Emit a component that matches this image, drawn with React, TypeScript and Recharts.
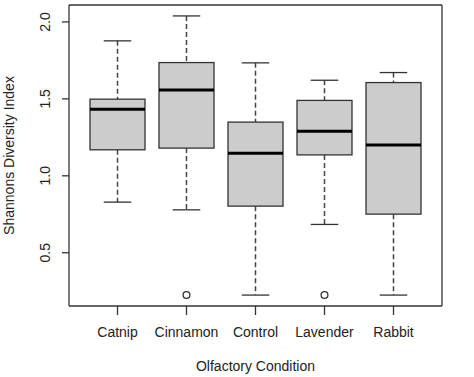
import * as React from 'react'
import { Bar, ComposedChart, Label, Line, XAxis, YAxis } from 'recharts'

// Olfactory conditions and their box statistics
const conditions = ['Catnip', 'Cinnamon', 'Control', 'Lavender', 'Rabbit']
const whiskerLow = [0.829, 0.779, 0.225, 0.684, 0.225]
const quartile1 = [1.169, 1.18, 0.803, 1.136, 0.751]
const medians = [1.433, 1.558, 1.147, 1.29, 1.201]
const quartile3 = [1.498, 1.736, 1.349, 1.49, 1.606]
const whiskerHigh = [1.877, 2.039, 1.734, 1.621, 1.671]
const outliers: (number | null)[] = [null, 0.225, null, 0.225, null]
const yTicks = [0.5, 1.0, 1.5, 2.0]

const data = conditions.map((name, i) => ({
  name,
  range: [whiskerLow[i], whiskerHigh[i]],
  q1: quartile1[i],
  med: medians[i],
  q3: quartile3[i],
  outlier: outliers[i],
}))

const FONT = '"Liberation Sans", Arial, Helvetica, sans-serif'
const INK = '#222'
const LINE = '#333'

const BoxShape = (props: any) => {
  const { x, y, width, height, payload } = props
  const [lo, hi] = payload.range
  const top = Math.min(y, y + height)
  const h = Math.abs(height)
  const k = h / (hi - lo)
  const py = (v: number) => top + (hi - v) * k
  const cx = x + width / 2
  const cap = width / 4
  return (
    <g>
      <line x1={cx} x2={cx} y1={py(hi)} y2={py(payload.q3)} stroke="#444" strokeWidth={1.5} strokeDasharray="5 3" />
      <line x1={cx} x2={cx} y1={py(payload.q1)} y2={py(lo)} stroke="#444" strokeWidth={1.5} strokeDasharray="5 3" />
      <line x1={cx - cap} x2={cx + cap} y1={py(hi)} y2={py(hi)} stroke={LINE} strokeWidth={1.3} />
      <line x1={cx - cap} x2={cx + cap} y1={py(lo)} y2={py(lo)} stroke={LINE} strokeWidth={1.3} />
      <rect
        x={x}
        y={py(payload.q3)}
        width={width}
        height={py(payload.q1) - py(payload.q3)}
        fill="#cccccc"
        stroke={LINE}
        strokeWidth={1.3}
      />
      <line x1={x} x2={x + width} y1={py(payload.med)} y2={py(payload.med)} stroke="#000" strokeWidth={3} />
    </g>
  )
}

const YTick = (props: any) => {
  const { x, y, payload } = props
  return (
    <text
      x={x}
      y={y}
      transform={`rotate(-90 ${x} ${y})`}
      textAnchor="middle"
      fontSize={14}
      fontFamily={FONT}
      fill={INK}
    >
      {Number(payload.value).toFixed(1)}
    </text>
  )
}

export default function App() {
  return (
    <div style={{ position: 'absolute', left: 0, top: 0, width: 474, height: 377, background: '#fff' }}>
      <ComposedChart width={474} height={377} data={data} margin={{ top: 0, right: 0, bottom: 0, left: 0 }}>
        <XAxis
          dataKey="name"
          height={71}
          padding={{ left: 14, right: 14 }}
          tickSize={9}
          tickMargin={12}
          tick={{ fontSize: 14, fontFamily: FONT, fill: INK }}
          axisLine={{ stroke: LINE, strokeWidth: 1.3 }}
          tickLine={{ stroke: LINE, strokeWidth: 1.3 }}
        >
          <Label
            content={({ viewBox }: any) => (
              <text
                x={viewBox.x + viewBox.width / 2}
                y={371}
                textAnchor="middle"
                fontSize={14}
                fontFamily={FONT}
                fill={INK}
              >
                Olfactory Condition
              </text>
            )}
          />
        </XAxis>
        <XAxis
          xAxisId="top"
          orientation="top"
          dataKey="name"
          height={5}
          padding={{ left: 14, right: 14 }}
          tick={false}
          tickLine={false}
          axisLine={{ stroke: LINE, strokeWidth: 1.3 }}
        />
        <YAxis
          type="number"
          width={69}
          domain={[0.154, 2.11]}
          allowDataOverflow
          ticks={yTicks}
          tickSize={7}
          tickMargin={12}
          tick={<YTick />}
          axisLine={{ stroke: LINE, strokeWidth: 1.3 }}
          tickLine={{ stroke: LINE, strokeWidth: 1.3 }}
        >
          <Label
            content={({ viewBox }: any) => {
              const cy = viewBox.y + viewBox.height / 2
              return (
                <text
                  x={14}
                  y={cy}
                  transform={`rotate(-90 14 ${cy})`}
                  textAnchor="middle"
                  fontSize={14}
                  fontFamily={FONT}
                  fill={INK}
                >
                  Shannons Diversity Index
                </text>
              )
            }}
          />
        </YAxis>
        <YAxis
          yAxisId="right"
          orientation="right"
          width={32}
          tick={false}
          tickLine={false}
          axisLine={{ stroke: LINE, strokeWidth: 1.3 }}
        />
        <Bar dataKey="range" barSize={55} shape={<BoxShape />} isAnimationActive={false} />
        <Line
          dataKey="outlier"
          stroke="none"
          isAnimationActive={false}
          dot={(p: any) =>
            p.payload.outlier == null ? (
              <g key={p.index} />
            ) : (
              <circle key={p.index} cx={p.cx} cy={p.cy} r={3.4} fill="#fff" stroke={LINE} strokeWidth={1.3} />
            )
          }
          activeDot={false}
        />
      </ComposedChart>
    </div>
  )
}
